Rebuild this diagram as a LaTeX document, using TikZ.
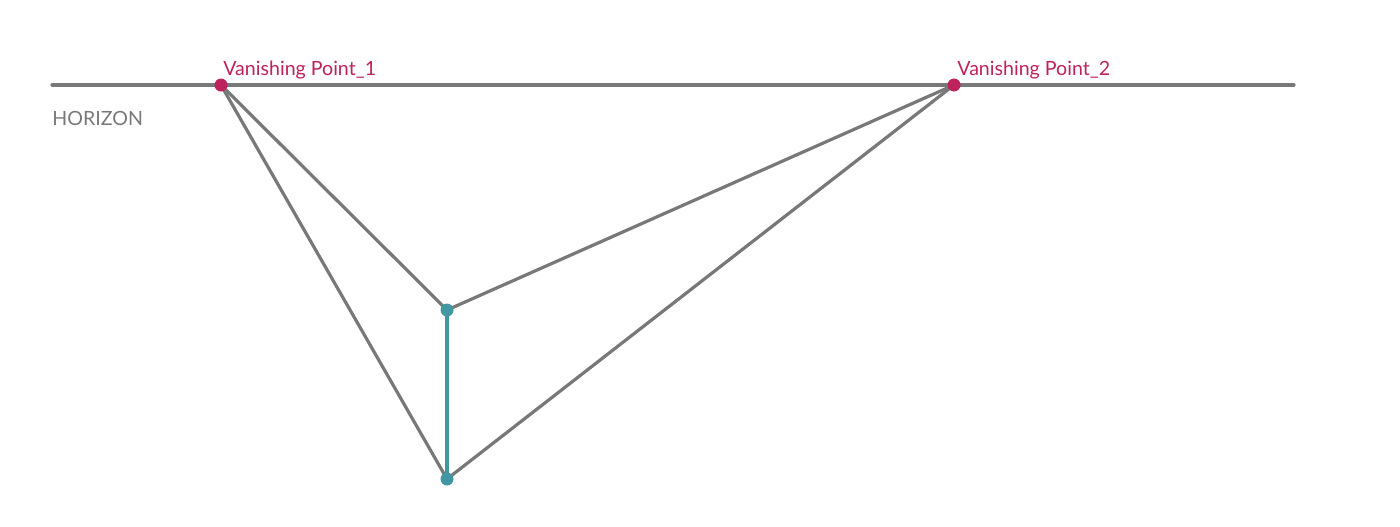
\documentclass[tikz,border=0pt]{standalone}
\usepackage{fontspec}
\setmainfont{Lato}
\usetikzlibrary{calc}
\definecolor{lineGray}{RGB}{120,120,120}
\definecolor{vpRed}{RGB}{190,34,92}
\definecolor{edgeTeal}{RGB}{66,152,162}
\tikzset{>=latex}
\tikzset{
  guide/.style = {draw=lineGray, line width=1.6pt, line cap=round},
  edge/.style = {draw=edgeTeal, line width=1.7pt},
  vpdot/.style = {fill=vpRed},
  edgedot/.style = {fill=edgeTeal},
  vplabel/.style = {text=vpRed, font=\fontsize{9.8}{12}\selectfont, anchor=base west, inner sep=0pt},
}

\begin{document}
\begin{tikzpicture}[x=0.5pt, y=-0.5pt]
\useasboundingbox (0,0) rectangle (1400,526);
\coordinate (hl) at (52,85);
\coordinate (hr) at (1294,85);
\coordinate (vp1) at (221,85);
\coordinate (vp2) at (954,85);
\coordinate (top) at (447,310);
\coordinate (bot) at (447,479);
\draw[guide] (hl) -- (hr);
\draw[guide] (vp1) -- (top);
\draw[guide] (vp1) -- (bot);
\draw[guide] (vp2) -- (top);
\draw[guide] (vp2) -- (bot);
\draw[edge] (top) -- (bot);
\fill[vpdot] (vp1) circle (6.5);
\fill[vpdot] (vp2) circle (6.5);
\fill[edgedot] (top) circle (6.5);
\fill[edgedot] (bot) circle (6.5);
\node[vplabel] (lab1) at (223,75) {Vanishing Point\_1};
\node[vplabel] (lab2) at (957,75) {Vanishing Point\_2};
\node[vplabel, text=lineGray] (hor) at (52,125) {HORIZON};
\end{tikzpicture}
\end{document}
